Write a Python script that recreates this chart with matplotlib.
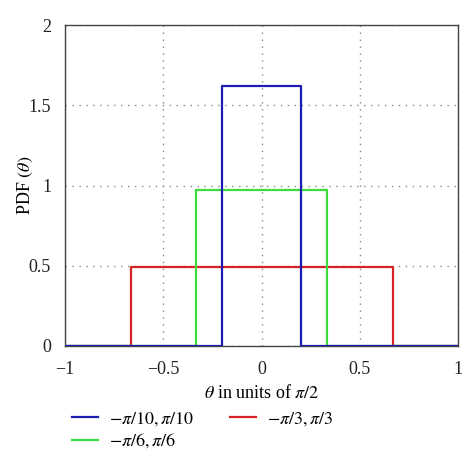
import numpy as np
import matplotlib
matplotlib.use("Agg")
import matplotlib.pyplot as plt

# Data: uniform PDFs (half-width in units of pi/2, height)
labels = [r"$-\pi/10, \pi/10$", r"$-\pi/6, \pi/6$", r"$-\pi/3, \pi/3$"]
half_widths = [0.2, 1/3, 2/3]
heights = [1.62, 0.97, 0.49]
colors = ["#1c1cb4", "#3ddc3d", "#d42424"]
xticks = [-1, -0.5, 0, 0.5, 1]
xticklabels = ["\u22121", "\u22120.5", "0", "0.5", "1"]
yticks = [0, 0.5, 1, 1.5, 2]
yticklabels = ["0", "0.5", "1", "1.5", "2"]

plt.rcParams['font.family'] = ['Liberation Serif', 'DejaVu Serif']
plt.rcParams['mathtext.fontset'] = 'stix'

fig = plt.figure(figsize=(4.74, 4.74), dpi=100)
ax = fig.add_axes([65/474, 1 - 346/474, 393/474, 321/474])

handles = []
for i, (lab, hw, h, c) in enumerate(zip(labels, half_widths, heights, colors)):
    xs = [-1, -hw, -hw, hw, hw, 1]
    ys = [0, 0, h, h, 0, 0]
    ln, = ax.plot(xs, ys, color=c, lw=1.6, zorder=5 - i, label=lab)
    handles.append(ln)

ax.set_xlim(-1, 1)
ax.set_ylim(0, 2)
ax.set_xticks(xticks)
ax.set_xticklabels(xticklabels)
ax.set_yticks(yticks)
ax.set_yticklabels(yticklabels)
ax.tick_params(length=0, labelsize=13, colors="#222222")
ax.tick_params(axis='x', pad=11)
ax.tick_params(axis='y', pad=10)
ax.grid(True, linestyle=(0, (1, 4)), color="#888888", lw=1)
for s in ax.spines.values():
    s.set_color("#444444")
    s.set_linewidth(1.0)

ax.set_xlabel(r"$\theta$ in units of $\pi/2$", fontsize=13, va="center")
ax.xaxis.set_label_coords(0.5, (346 - 393) / 321)
ax.set_ylabel(r"PDF $(\theta)$", fontsize=13, va="center")
ax.yaxis.set_label_coords((25 - 65) / 393, 0.5)

fig.legend(handles=handles, loc="upper left", bbox_to_anchor=(72/474, 1 - 410/474),
           ncol=2, frameon=False, fontsize=13, handlelength=1.45,
           columnspacing=2.0, handletextpad=0.6, labelspacing=0.2,
           borderpad=0, borderaxespad=0)

fig.savefig("out.png", dpi=100)
